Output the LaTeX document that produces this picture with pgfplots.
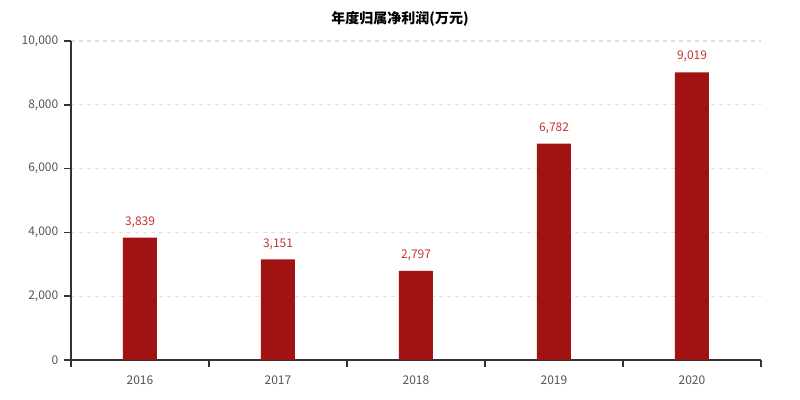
\documentclass[border=0pt]{standalone}
\usepackage{pgfplots}
\pgfplotsset{compat=1.18}
\usepackage{fontspec}
\setmainfont{Noto Sans CJK SC}
\definecolor{barred}{HTML}{A11313}
\definecolor{lblred}{HTML}{C23531}
\definecolor{axgray}{HTML}{333333}
\definecolor{tickgray}{HTML}{555555}
\definecolor{gridgray}{HTML}{E0E0E0}
\begin{document}
\begin{tikzpicture}[x=0.75pt,y=0.75pt]
\useasboundingbox (0,0) rectangle (800,400);
\node[font=\bfseries\fontsize{10.5}{12}\selectfont, text=black] at (400,381) {年度归属净利润(万元)};
\begin{axis}[
  at={(71*0.75pt,40*0.75pt)}, anchor=south west,
  scale only axis, width=690*0.75pt, height=319*0.75pt,
  xmin=-0.5, xmax=4.5, ymin=0, ymax=10000,
  axis lines=left,
  axis line style={axgray, line width=1.4pt, -},
  xtick={0,1,2,3,4},
  xticklabels={2016,2017,2018,2019,2020},
  major x tick style={draw=none},
  minor xtick={-0.5,0.5,1.5,2.5,3.5,4.5},
  minor x tick style={axgray, line width=1.2pt},
  minor tick length=5pt,
  ytick={0,2000,4000,6000,8000,10000},
  y tick style={axgray, line width=1.2pt},
  major tick length=5pt,
  tick align=outside,
  ymajorgrids,
  grid style={gridgray, dash pattern=on 3pt off 3pt, line width=0.8pt},
  /pgf/number format/assume math mode=true,
  /pgf/number format/.cd, 1000 sep={,}, /pgfplots/.cd,
  scaled y ticks=false,
  ticklabel style={font=\fontsize{9}{10}\selectfont, text=tickgray},
  xticklabel style={yshift=-3pt},
  yticklabel style={xshift=-1pt},
  nodes near coords,
  every node near coord/.append style={font=\fontsize{9}{10}\selectfont, text=lblred, yshift=4pt},
  nodes near coords style={/pgf/number format/.cd, 1000 sep={,}, assume math mode=true},
  clip=false,
]
\addplot[ybar, bar width=34*0.75pt, fill=barred, draw=none] coordinates {
(0,3839) (1,3151) (2,2797) (3,6782) (4,9019)
};
\end{axis}
\end{tikzpicture}
\end{document}
